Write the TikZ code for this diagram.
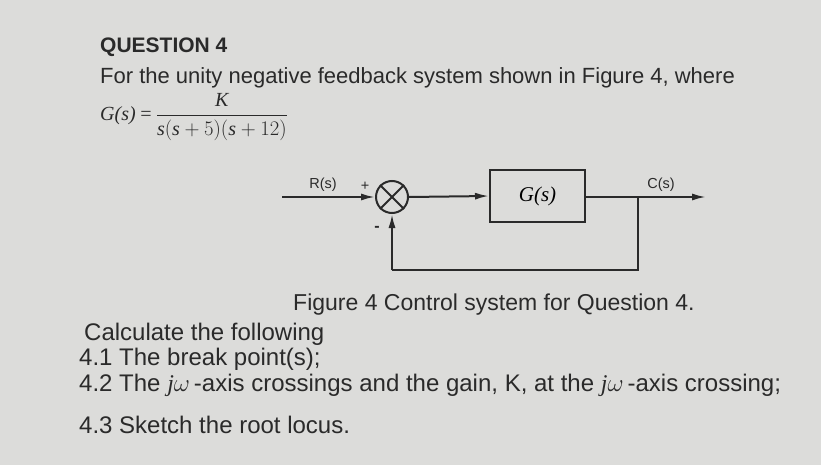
\documentclass[tikz,border=0pt]{standalone}
\usepackage{fontspec}
\setmainfont{Liberation Sans}
\newfontfamily\serifit{Liberation Serif}
\usetikzlibrary{arrows.meta}
\definecolor{paper}{HTML}{DCDCDA}
\definecolor{ink}{HTML}{2A2A2A}
\begin{document}
\begin{tikzpicture}[x=1pt,y=-1pt,
  txt/.style={anchor=west,inner sep=0pt,text=ink,font=\fontsize{22}{24}\selectfont},
  big/.style={txt,font=\fontsize{24}{26}\selectfont},
  sm/.style={inner sep=0pt,text=ink,font=\fontsize{14.5}{16}\selectfont},
  wire/.style={draw=ink,line width=2pt},
  arr/.style={wire,-{Latex[length=14pt,width=7pt]}},
  blk/.style={draw=ink,line width=2pt,minimum width=95pt,minimum height=52pt,inner sep=0pt}]
\fill[paper] (0,0) rectangle (821,465);
\useasboundingbox (0,0) rectangle (821,465);
\node[txt,font=\fontsize{21}{24}\selectfont\bfseries] (q) at (100,47) {QUESTION 4};
\node[txt] (l1) at (100,78) {For the unity negative feedback system shown in Figure 4, where};
\node[txt,font=\fontsize{20}{24}\selectfont\serifit] (g) at (100,117) {\itshape G(s)\,=\,$\displaystyle\frac{\textit{K}\rule[-3pt]{0pt}{6pt}}{\textit{s}(\textit{s}+5)(\textit{s}+12)}$};
% block diagram
\coordinate (in) at (282,197);
\node[circle,draw=ink,line width=2pt,minimum size=32pt,inner sep=0pt] (sum) at (392,197) {};
\draw[wire] (sum.45)--(sum.225) (sum.135)--(sum.315);
\node[blk] (G) at (537.5,196) {\fontsize{21}{24}\selectfont\serifit\itshape G(s)};
\coordinate (br) at (638,197);
\coordinate (out) at (706,197);
\coordinate (fb1) at (638,270);
\coordinate (fb2) at (392,270);
\draw[arr] (in)--(sum.west);
\draw[arr] (sum.east)--(G.west);
\draw[wire] (G.east|-br)--(br);
\draw[arr] (br)--(out);
\draw[wire] (br)--(fb1)--(fb2);
\draw[arr] (fb2)--(sum.south);
\node[sm] (r) at (323,185) {R(s)};
\node[sm] (p) at (365,186) {+};
\node[sm,font=\fontsize{16}{16}\selectfont\bfseries] (m) at (377,229) {-};
\node[sm] (c) at (661,185) {C(s)};
\node[txt,font=\fontsize{23}{26}\selectfont] (cap) at (293,305) {Figure 4 Control system for Question 4.};
\node[big] (t0) at (84,334) {Calculate the following};
\node[big] (t1) at (79,359) {4.1 The break point(s);};
\node[big] (t2) at (79,385) {4.2 The {\serifit\itshape j$\omega$}\,-axis crossings and the gain, K, at the {\serifit\itshape j$\omega$}\,-axis crossing;};
\node[big] (t3) at (79,425) {4.3 Sketch the root locus.};
\end{tikzpicture}
\end{document}
